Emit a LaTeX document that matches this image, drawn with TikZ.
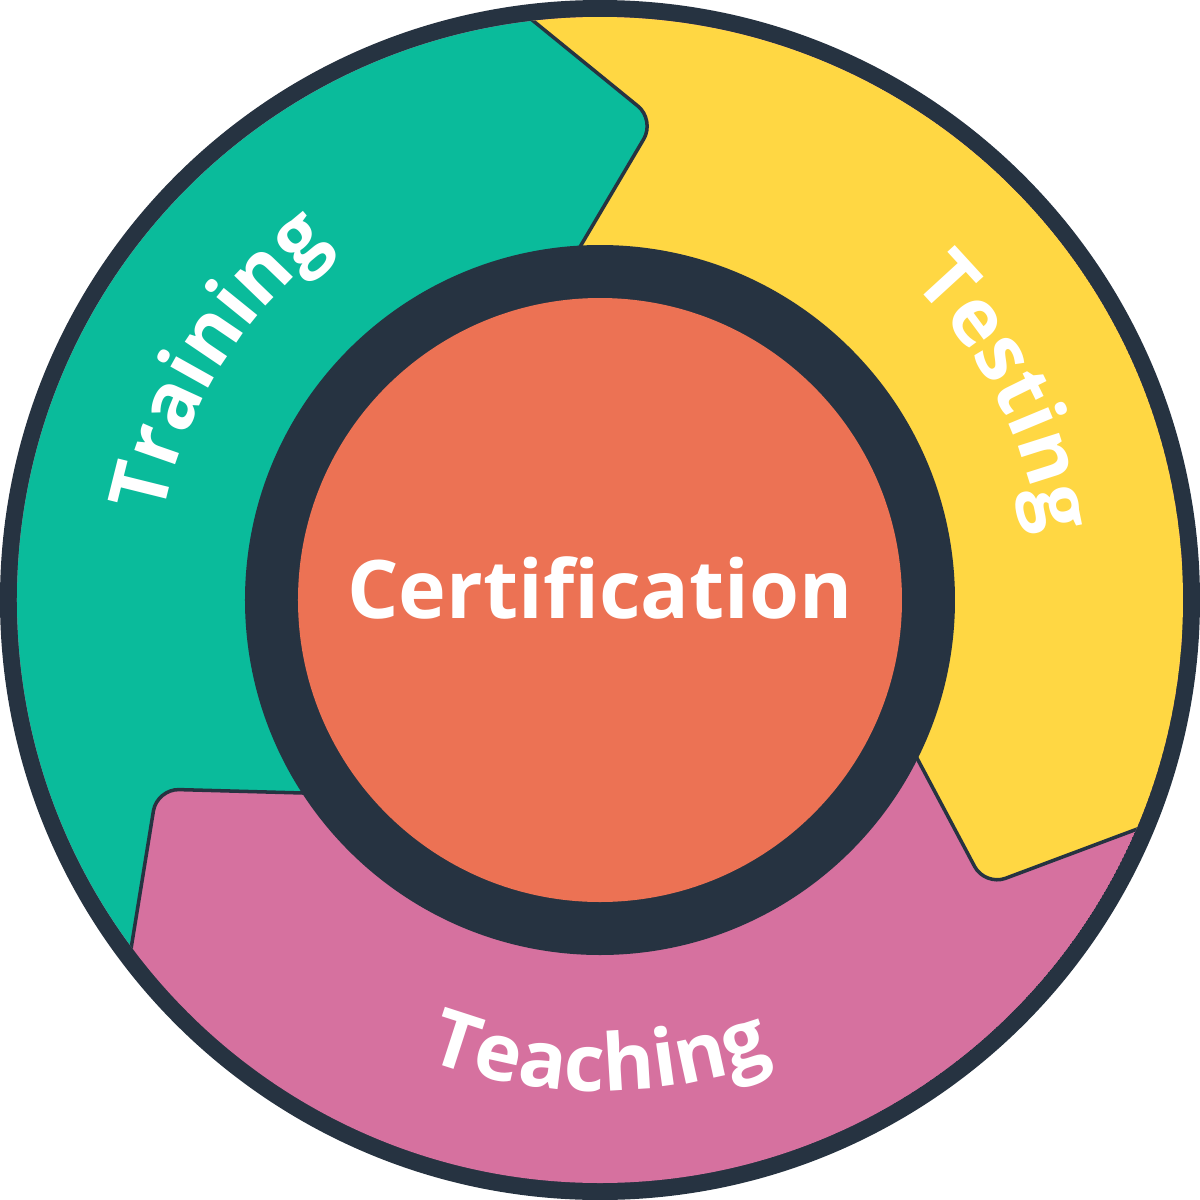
\documentclass[tikz,border=0pt]{standalone}
\usepackage{fontspec}
\setmainfont{Open Sans}
\usetikzlibrary{decorations.text}

\definecolor{ringdark}{HTML}{263341}
\definecolor{traingreen}{HTML}{0ABB9B}
\definecolor{testyellow}{HTML}{FFD743}
\definecolor{teachpink}{HTML}{D6719F}
\definecolor{certorange}{HTML}{EC7254}

\newcommand{\arcfont}{\fontsize{22.5}{27}\selectfont\bfseries}
\newcommand{\certfont}{\fontsize{23}{28}\selectfont\bfseries}

\begin{document}
\begin{tikzpicture}[
    arclabel/.style={decorate, decoration={text along path, text color=white,
        text align=center, text={|\arcfont|#1}}},
    divider/.style={draw=ringdark, line width=1pt, rounded corners=0.22cm}]
    % Radii of the rings
    \def\outerR{6}
    \def\bandR{5.83}
    \def\ringR{3.55}
    \def\coreR{3.02}

    \useasboundingbox (-\outerR,-\outerR) rectangle (\outerR,\outerR);

    % Outer dark border
    \fill[ringdark] (0,0) circle (\outerR);

    % Bends of the three arrows
    \coordinate (gyOut) at (-1.28,6.29);
    \coordinate (gyBend) at (0.55,4.80);
    \coordinate (gyIn) at (-0.65,2.77);
    \coordinate (pgOut) at (-4.76,-3.92);
    \coordinate (pgBend) at (-4.43,-1.89);
    \coordinate (pgIn) at (-2.24,-1.95);
    \coordinate (ypOut) at (5.80,-2.13);
    \coordinate (ypBend) at (3.85,-2.86);
    \coordinate (ypIn) at (2.76,-0.81);

    \begin{scope}
        \clip (0,0) circle (\bandR);
        % Teaching band (everything else)
        \fill[teachpink] (0,0) circle (\bandR);
        % Training band
        \fill[traingreen, rounded corners=0.22cm] (gyOut) -- (gyBend) -- (gyIn) -- (0,0)
            -- (pgIn) -- (pgBend) -- (pgOut) -- (-7,-4) -- (-7,7) -- (-1.28,7) -- cycle;
        % Testing band
        \fill[testyellow, rounded corners=0.22cm] (gyOut) -- (gyBend) -- (gyIn) -- (0,0)
            -- (ypIn) -- (ypBend) -- (ypOut) -- (7,-2.6) -- (7,7) -- (-1.28,7) -- cycle;
        % Dividing lines
        \draw[divider] (gyOut) -- (gyBend) -- (gyIn);
        \draw[divider] (pgOut) -- (pgBend) -- (pgIn);
        \draw[divider] (ypOut) -- (ypBend) -- (ypIn);
    \end{scope}

    % Inner ring and core
    \fill[ringdark] (0,0) circle (\ringR);
    \fill[certorange] (0,0) circle (\coreR);
    \node[font=\certfont, text=white, anchor=base] (cert) at (0,-0.18) {Certification};

    % Labels along the bands
    \path[arclabel=Training] (190:4.45) arc[start angle=190, end angle=106, radius=4.45];
    \path[arclabel=Testing] (67:4.45) arc[start angle=67, end angle=-13, radius=4.45];
    \path[arclabel=Teaching] (-130:4.91) arc[start angle=-130, end angle=-50, radius=4.91];
\end{tikzpicture}
\end{document}
